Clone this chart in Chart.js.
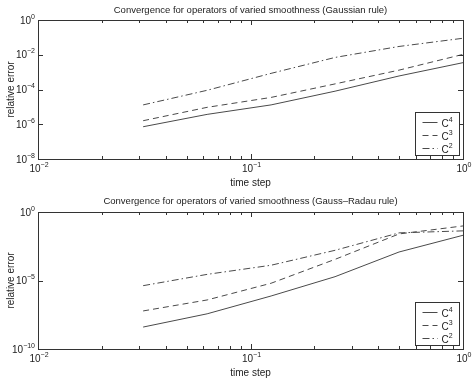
<!DOCTYPE html>
<html><head><meta charset="utf-8">
<script src="https://cdn.jsdelivr.net/npm/chart.js@4.4.1/dist/chart.umd.min.js"></script>
<style>
html,body{margin:0;padding:0;background:#fff;}
#wrap{position:relative;width:474px;height:379px;}
canvas{display:block;}
</style></head>
<body><div id="wrap"><canvas id="c1" width="474" height="190"></canvas><canvas id="c2" width="474" height="189"></canvas></div>
<script>
// ---- data ----
const timeSteps = [1/32, 1/16, 1/8, 1/4, 1/2, 1];
const seriesBase = ['C', 'C', 'C'];
const seriesExp = ['4', '3', '2'];
const gaussC4 = [7.2e-7, 3.7e-6, 1.3e-5, 8e-5, 6e-4, 3.5e-3];
const gaussC3 = [1.6e-6, 9.4e-6, 3.5e-5, 2.1e-4, 1.3e-3, 1.05e-2];
const gaussC2 = [1.3e-5, 9e-5, 8.5e-4, 7e-3, 3e-2, 8.9e-2];
const radauC4 = [4e-9, 3.7e-8, 7.4e-7, 1.9e-5, 1.2e-3, 2e-2];
const radauC3 = [6e-8, 3.8e-7, 6.3e-6, 3.5e-4, 2.5e-2, 9.6e-2];
const radauC2 = [4.2e-6, 2.8e-5, 1.3e-4, 1.6e-3, 3e-2, 4.2e-2];
const xTicks = [0.01, 0.1, 1];
const xMinorTicks = [0.02,0.03,0.04,0.05,0.06,0.07,0.08,0.09,0.2,0.3,0.4,0.5,0.6,0.7,0.8,0.9];
const yTicksGauss = [1e-8, 1e-6, 1e-4, 1e-2, 1];
const yTicksRadau = [1e-10, 1e-5, 1];
const titleGauss = 'Convergence for operators of varied smoothness (Gaussian rule)';
const titleRadau = 'Convergence for operators of varied smoothness (Gauss\u2013Radau rule)';
const xTitle = 'time step';
const yTitle = 'relative error';

// ---- styling ----
const FONT = '"Liberation Sans", Arial, Helvetica, sans-serif';
const TXT = '#222';
const AX = '#333';
const LINE = '#4a4a4a';
const dashes = [[], [6, 4], [7, 3, 1.5, 3]];

function expOf(v){ return String(Math.round(Math.log10(v))).replace('-', '\u2212'); }
function drawPow(ctx, base, exp, x, y, align) {
  ctx.font = '10px ' + FONT;
  const wb = ctx.measureText(base).width;
  ctx.font = '7px ' + FONT;
  const we = ctx.measureText(exp).width;
  const total = wb + we;
  let sx = align === 'right' ? x - total : align === 'center' ? x - total / 2 : x;
  ctx.textAlign = 'left'; ctx.textBaseline = 'alphabetic';
  ctx.font = '10px ' + FONT;
  ctx.fillText(base, sx, y);
  ctx.font = '7px ' + FONT;
  ctx.fillText(exp, sx + wb, y - 5);
}

const framePlugin = {
  id: 'frame',
  afterDatasetsDraw(chart) {
    const {ctx, chartArea: a, scales} = chart;
    const o = chart.options.plugins.frame;
    const yt = o.yTicks;
    ctx.save();
    // title, centred on the plot area
    ctx.fillStyle = TXT;
    ctx.font = '9.5px ' + FONT;
    ctx.textAlign = 'center'; ctx.textBaseline = 'middle';
    ctx.fillText(o.title, (a.left + a.right) / 2, o.titleY);
    // frame
    ctx.strokeStyle = AX; ctx.lineWidth = 1;
    ctx.strokeRect(Math.round(a.left)+0.5, Math.round(a.top)+0.5, Math.round(a.right-a.left), Math.round(a.bottom-a.top));
    ctx.beginPath();
    const tick = (vals, len) => vals.forEach(v => {
      const x = Math.round(scales.x.getPixelForValue(v)) + 0.5;
      ctx.moveTo(x, a.bottom); ctx.lineTo(x, a.bottom - len);
      ctx.moveTo(x, a.top); ctx.lineTo(x, a.top + len);
    });
    tick(xTicks, 5); tick(xMinorTicks, 3);
    yt.forEach(v => {
      const y = Math.round(scales.y.getPixelForValue(v)) + 0.5;
      ctx.moveTo(a.left, y); ctx.lineTo(a.left + 5, y);
      ctx.moveTo(a.right, y); ctx.lineTo(a.right - 5, y);
    });
    ctx.stroke();
    // tick labels
    ctx.fillStyle = TXT;
    xTicks.forEach(v => drawPow(ctx, '10', expOf(v), scales.x.getPixelForValue(v) + 1, a.bottom + 13, 'center'));
    yt.forEach(v => drawPow(ctx, '10', expOf(v), a.left - 3, scales.y.getPixelForValue(v) + 3.5, 'right'));
    // legend box
    const w = 44, h = 43;
    const bx = Math.round(a.right - 4 - w) + 0.5, by = Math.round(a.bottom - 4 - h) + 0.5;
    ctx.fillStyle = '#fff';
    ctx.fillRect(bx, by, w, h);
    ctx.strokeStyle = AX;
    ctx.strokeRect(bx, by, w, h);
    chart.data.datasets.forEach((ds, i) => {
      const ry = by + 10 + i * 13;
      ctx.beginPath();
      ctx.setLineDash(ds.borderDash || []);
      ctx.strokeStyle = LINE;
      ctx.moveTo(bx + 7, ry); ctx.lineTo(bx + 22, ry);
      ctx.stroke();
      ctx.setLineDash([]);
      ctx.fillStyle = TXT;
      drawPow(ctx, seriesBase[i], seriesExp[i], bx + 26, ry + 4, 'left');
    });
    ctx.restore();
  }
};

function makeChart(id, title, series, yTicks, yMin, topPad, titleY, xH) {
  return new Chart(document.getElementById(id), {
    type: 'line',
    data: {
      datasets: series.map((vals, i) => ({
        label: seriesBase[i] + seriesExp[i],
        data: timeSteps.map((t, j) => ({x: t, y: vals[j]})),
        borderColor: LINE, borderWidth: 1, borderDash: dashes[i],
        pointRadius: 0, tension: 0, fill: false
      }))
    },
    options: {
      responsive: false, animation: false, devicePixelRatio: 1,
      layout: {padding: {left: 0, right: 11, top: topPad, bottom: 0}},
      plugins: {
        legend: {display: false}, tooltip: {enabled: false}, title: {display: false},
        frame: {yTicks: yTicks, title: title, titleY: titleY}
      },
      scales: {
        x: {
          type: 'logarithmic', min: 0.01, max: 1,
          afterBuildTicks: s => { s.ticks = xTicks.map(v => ({value: v})); },
          afterFit: s => { s.height = xH; },
          ticks: {display: false},
          grid: {display: false}, border: {display: false},
          title: {display: true, text: xTitle, color: TXT, font: {family: FONT, size: 10}, padding: {top: 0, bottom: xH === 31 ? 1 : 0}}
        },
        y: {
          type: 'logarithmic', min: yMin, max: 1,
          afterBuildTicks: s => { s.ticks = yTicks.map(v => ({value: v})); },
          afterFit: s => { s.width = 38; },
          ticks: {display: false},
          grid: {display: false}, border: {display: false},
          title: {display: true, text: yTitle, color: TXT, font: {family: FONT, size: 10}, padding: {top: 5, bottom: 0}}
        }
      }
    },
    plugins: [framePlugin]
  });
}

makeChart('c1', titleGauss, [gaussC4, gaussC3, gaussC2], yTicksGauss, 1e-8, 20, 10, 31);
makeChart('c2', titleRadau, [radauC4, radauC3, radauC2], yTicksRadau, 1e-10, 22, 11, 30);
</script></body></html>
